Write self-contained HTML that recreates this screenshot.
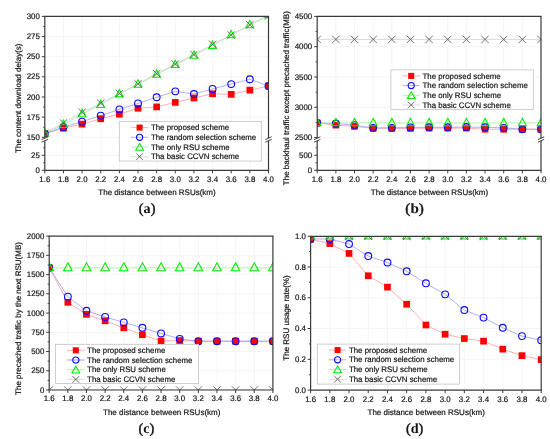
<!DOCTYPE html>
<html><head><meta charset="utf-8"><title>Figure</title>
<style>
html,body{margin:0;padding:0;background:#fff;}
body{width:550px;height:439px;overflow:hidden;}
svg{display:block;} text{text-rendering:geometricPrecision;}
</style></head>
<body>
<svg width="550" height="439" viewBox="0 0 550 439">
<rect width="550" height="439" fill="#ffffff"/>
<clipPath id="ca"><rect x="44.8" y="16.4" width="223.7" height="153.9"/></clipPath>
<line x1="63.442" y1="16.4" x2="63.442" y2="170.3" stroke="#f1f1f1" stroke-width="0.8"/>
<line x1="82.083" y1="16.4" x2="82.083" y2="170.3" stroke="#f1f1f1" stroke-width="0.8"/>
<line x1="100.725" y1="16.4" x2="100.725" y2="170.3" stroke="#f1f1f1" stroke-width="0.8"/>
<line x1="119.367" y1="16.4" x2="119.367" y2="170.3" stroke="#f1f1f1" stroke-width="0.8"/>
<line x1="138.008" y1="16.4" x2="138.008" y2="170.3" stroke="#f1f1f1" stroke-width="0.8"/>
<line x1="156.65" y1="16.4" x2="156.65" y2="170.3" stroke="#f1f1f1" stroke-width="0.8"/>
<line x1="175.292" y1="16.4" x2="175.292" y2="170.3" stroke="#f1f1f1" stroke-width="0.8"/>
<line x1="193.933" y1="16.4" x2="193.933" y2="170.3" stroke="#f1f1f1" stroke-width="0.8"/>
<line x1="212.575" y1="16.4" x2="212.575" y2="170.3" stroke="#f1f1f1" stroke-width="0.8"/>
<line x1="231.217" y1="16.4" x2="231.217" y2="170.3" stroke="#f1f1f1" stroke-width="0.8"/>
<line x1="249.858" y1="16.4" x2="249.858" y2="170.3" stroke="#f1f1f1" stroke-width="0.8"/>
<line x1="44.8" y1="36.55" x2="268.5" y2="36.55" stroke="#f1f1f1" stroke-width="0.8"/>
<line x1="44.8" y1="56.7" x2="268.5" y2="56.7" stroke="#f1f1f1" stroke-width="0.8"/>
<line x1="44.8" y1="76.85" x2="268.5" y2="76.85" stroke="#f1f1f1" stroke-width="0.8"/>
<line x1="44.8" y1="97" x2="268.5" y2="97" stroke="#f1f1f1" stroke-width="0.8"/>
<line x1="44.8" y1="117.15" x2="268.5" y2="117.15" stroke="#f1f1f1" stroke-width="0.8"/>
<line x1="44.8" y1="137.3" x2="268.5" y2="137.3" stroke="#f1f1f1" stroke-width="0.8"/>
<line x1="44.8" y1="155.3" x2="268.5" y2="155.3" stroke="#f1f1f1" stroke-width="0.8"/>
<g clip-path="url(#ca)">
<polyline points="44.8,133.592 63.442,128.192 82.083,124.082 100.725,118.762 119.367,114.168 138.008,108.284 156.65,106.914 175.292,102.4 193.933,97.967 212.575,93.776 231.217,94.34 249.858,90.149 268.5,86.038" fill="none" stroke="#ff9a9a" stroke-width="0.8"/>
<polyline points="44.8,133.592 63.442,127.144 82.083,121.664 100.725,115.619 119.367,109.412 138.008,103.448 156.65,97.242 175.292,91.358 193.933,94.018 212.575,88.94 231.217,84.104 249.858,79.268 268.5,86.038" fill="none" stroke="#9c9cff" stroke-width="0.8"/>
<polyline points="44.8,133.27 63.442,124.726 82.083,113.926 100.725,104.738 119.367,94.098 138.008,84.426 156.65,74.513 175.292,64.76 193.933,55.41 212.575,45.577 231.217,35.019 249.858,25.024 268.5,14.788" fill="none" stroke="#9cf09c" stroke-width="0.8"/>
<polyline points="44.8,133.27 63.442,122.953 82.083,112.314 100.725,103.126 119.367,93.454 138.008,83.782 156.65,73.626 175.292,64.035 193.933,54.524 212.575,44.288 231.217,35.019 249.858,24.782 268.5,15.997" fill="none" stroke="#d0d0d0" stroke-width="0.8"/>
<rect x="41.45" y="130.242" width="6.7" height="6.7" fill="#ff0000"/>
<rect x="60.092" y="124.842" width="6.7" height="6.7" fill="#ff0000"/>
<rect x="78.733" y="120.732" width="6.7" height="6.7" fill="#ff0000"/>
<rect x="97.375" y="115.412" width="6.7" height="6.7" fill="#ff0000"/>
<rect x="116.017" y="110.818" width="6.7" height="6.7" fill="#ff0000"/>
<rect x="134.658" y="104.934" width="6.7" height="6.7" fill="#ff0000"/>
<rect x="153.3" y="103.564" width="6.7" height="6.7" fill="#ff0000"/>
<rect x="171.942" y="99.05" width="6.7" height="6.7" fill="#ff0000"/>
<rect x="190.583" y="94.617" width="6.7" height="6.7" fill="#ff0000"/>
<rect x="209.225" y="90.426" width="6.7" height="6.7" fill="#ff0000"/>
<rect x="227.867" y="90.99" width="6.7" height="6.7" fill="#ff0000"/>
<rect x="246.508" y="86.799" width="6.7" height="6.7" fill="#ff0000"/>
<rect x="265.15" y="82.688" width="6.7" height="6.7" fill="#ff0000"/>
<circle cx="44.8" cy="133.592" r="3.4" fill="none" stroke="#0a0aff" stroke-width="1.1"/>
<circle cx="63.442" cy="127.144" r="3.4" fill="none" stroke="#0a0aff" stroke-width="1.1"/>
<circle cx="82.083" cy="121.664" r="3.4" fill="none" stroke="#0a0aff" stroke-width="1.1"/>
<circle cx="100.725" cy="115.619" r="3.4" fill="none" stroke="#0a0aff" stroke-width="1.1"/>
<circle cx="119.367" cy="109.412" r="3.4" fill="none" stroke="#0a0aff" stroke-width="1.1"/>
<circle cx="138.008" cy="103.448" r="3.4" fill="none" stroke="#0a0aff" stroke-width="1.1"/>
<circle cx="156.65" cy="97.242" r="3.4" fill="none" stroke="#0a0aff" stroke-width="1.1"/>
<circle cx="175.292" cy="91.358" r="3.4" fill="none" stroke="#0a0aff" stroke-width="1.1"/>
<circle cx="193.933" cy="94.018" r="3.4" fill="none" stroke="#0a0aff" stroke-width="1.1"/>
<circle cx="212.575" cy="88.94" r="3.4" fill="none" stroke="#0a0aff" stroke-width="1.1"/>
<circle cx="231.217" cy="84.104" r="3.4" fill="none" stroke="#0a0aff" stroke-width="1.1"/>
<circle cx="249.858" cy="79.268" r="3.4" fill="none" stroke="#0a0aff" stroke-width="1.1"/>
<circle cx="268.5" cy="86.038" r="3.4" fill="none" stroke="#0a0aff" stroke-width="1.1"/>
<polygon points="44.8,128.67 48.7,136.07 40.9,136.07" fill="none" stroke="#00ee00" stroke-width="1.1" stroke-linejoin="miter"/>
<polygon points="63.442,120.126 67.342,127.526 59.542,127.526" fill="none" stroke="#00ee00" stroke-width="1.1" stroke-linejoin="miter"/>
<polygon points="82.083,109.326 85.983,116.726 78.183,116.726" fill="none" stroke="#00ee00" stroke-width="1.1" stroke-linejoin="miter"/>
<polygon points="100.725,100.138 104.625,107.538 96.825,107.538" fill="none" stroke="#00ee00" stroke-width="1.1" stroke-linejoin="miter"/>
<polygon points="119.367,89.498 123.267,96.898 115.467,96.898" fill="none" stroke="#00ee00" stroke-width="1.1" stroke-linejoin="miter"/>
<polygon points="138.008,79.826 141.908,87.226 134.108,87.226" fill="none" stroke="#00ee00" stroke-width="1.1" stroke-linejoin="miter"/>
<polygon points="156.65,69.913 160.55,77.313 152.75,77.313" fill="none" stroke="#00ee00" stroke-width="1.1" stroke-linejoin="miter"/>
<polygon points="175.292,60.16 179.192,67.56 171.392,67.56" fill="none" stroke="#00ee00" stroke-width="1.1" stroke-linejoin="miter"/>
<polygon points="193.933,50.81 197.833,58.21 190.033,58.21" fill="none" stroke="#00ee00" stroke-width="1.1" stroke-linejoin="miter"/>
<polygon points="212.575,40.977 216.475,48.377 208.675,48.377" fill="none" stroke="#00ee00" stroke-width="1.1" stroke-linejoin="miter"/>
<polygon points="231.217,30.419 235.117,37.819 227.317,37.819" fill="none" stroke="#00ee00" stroke-width="1.1" stroke-linejoin="miter"/>
<polygon points="249.858,20.424 253.758,27.824 245.958,27.824" fill="none" stroke="#00ee00" stroke-width="1.1" stroke-linejoin="miter"/>
<polygon points="268.5,10.188 272.4,17.588 264.6,17.588" fill="none" stroke="#00ee00" stroke-width="1.1" stroke-linejoin="miter"/>
<path d="M41.1 129.57L48.5 136.97M41.1 136.97L48.5 129.57" stroke="#555555" stroke-width="0.85" fill="none"/>
<path d="M59.742 119.253L67.142 126.653M59.742 126.653L67.142 119.253" stroke="#555555" stroke-width="0.85" fill="none"/>
<path d="M78.383 108.614L85.783 116.014M78.383 116.014L85.783 108.614" stroke="#555555" stroke-width="0.85" fill="none"/>
<path d="M97.025 99.426L104.425 106.826M97.025 106.826L104.425 99.426" stroke="#555555" stroke-width="0.85" fill="none"/>
<path d="M115.667 89.754L123.067 97.154M115.667 97.154L123.067 89.754" stroke="#555555" stroke-width="0.85" fill="none"/>
<path d="M134.308 80.082L141.708 87.482M134.308 87.482L141.708 80.082" stroke="#555555" stroke-width="0.85" fill="none"/>
<path d="M152.95 69.926L160.35 77.326M152.95 77.326L160.35 69.926" stroke="#555555" stroke-width="0.85" fill="none"/>
<path d="M171.592 60.335L178.992 67.735M171.592 67.735L178.992 60.335" stroke="#555555" stroke-width="0.85" fill="none"/>
<path d="M190.233 50.824L197.633 58.224M190.233 58.224L197.633 50.824" stroke="#555555" stroke-width="0.85" fill="none"/>
<path d="M208.875 40.588L216.275 47.988M208.875 47.988L216.275 40.588" stroke="#555555" stroke-width="0.85" fill="none"/>
<path d="M227.517 31.319L234.917 38.719M227.517 38.719L234.917 31.319" stroke="#555555" stroke-width="0.85" fill="none"/>
<path d="M246.158 21.082L253.558 28.482M246.158 28.482L253.558 21.082" stroke="#555555" stroke-width="0.85" fill="none"/>
<path d="M264.8 12.297L272.2 19.697M264.8 19.697L272.2 12.297" stroke="#555555" stroke-width="0.85" fill="none"/>
</g>
<line x1="44.2" y1="16.4" x2="269.1" y2="16.4" stroke="#3a3a3a" stroke-width="1.2"/>
<line x1="44.2" y1="170.3" x2="269.1" y2="170.3" stroke="#3a3a3a" stroke-width="1.2"/>
<line x1="44.8" y1="16.4" x2="44.8" y2="138.2" stroke="#3a3a3a" stroke-width="1.2"/>
<line x1="44.8" y1="140.8" x2="44.8" y2="170.3" stroke="#3a3a3a" stroke-width="1.2"/>
<line x1="41.6" y1="139.6" x2="48" y2="136.8" stroke="#3a3a3a" stroke-width="0.95"/>
<line x1="41.6" y1="142.2" x2="48" y2="139.4" stroke="#3a3a3a" stroke-width="0.95"/>
<line x1="268.5" y1="16.4" x2="268.5" y2="138.2" stroke="#3a3a3a" stroke-width="1.2"/>
<line x1="268.5" y1="140.8" x2="268.5" y2="170.3" stroke="#3a3a3a" stroke-width="1.2"/>
<line x1="265.3" y1="139.6" x2="271.7" y2="136.8" stroke="#3a3a3a" stroke-width="0.95"/>
<line x1="265.3" y1="142.2" x2="271.7" y2="139.4" stroke="#3a3a3a" stroke-width="0.95"/>
<line x1="44.8" y1="170.3" x2="44.8" y2="173.3" stroke="#3a3a3a" stroke-width="1"/>
<text transform="translate(44.8 181.6) scale(0.983 1)" font-size="8" text-anchor="middle" fill="#141414" font-family="'Liberation Sans', Arial, sans-serif" stroke="#141414" stroke-width="0.2">1.6</text>
<line x1="63.442" y1="170.3" x2="63.442" y2="173.3" stroke="#3a3a3a" stroke-width="1"/>
<text transform="translate(63.442 181.6) scale(0.983 1)" font-size="8" text-anchor="middle" fill="#141414" font-family="'Liberation Sans', Arial, sans-serif" stroke="#141414" stroke-width="0.2">1.8</text>
<line x1="82.083" y1="170.3" x2="82.083" y2="173.3" stroke="#3a3a3a" stroke-width="1"/>
<text transform="translate(82.083 181.6) scale(0.983 1)" font-size="8" text-anchor="middle" fill="#141414" font-family="'Liberation Sans', Arial, sans-serif" stroke="#141414" stroke-width="0.2">2.0</text>
<line x1="100.725" y1="170.3" x2="100.725" y2="173.3" stroke="#3a3a3a" stroke-width="1"/>
<text transform="translate(100.725 181.6) scale(0.983 1)" font-size="8" text-anchor="middle" fill="#141414" font-family="'Liberation Sans', Arial, sans-serif" stroke="#141414" stroke-width="0.2">2.2</text>
<line x1="119.367" y1="170.3" x2="119.367" y2="173.3" stroke="#3a3a3a" stroke-width="1"/>
<text transform="translate(119.367 181.6) scale(0.983 1)" font-size="8" text-anchor="middle" fill="#141414" font-family="'Liberation Sans', Arial, sans-serif" stroke="#141414" stroke-width="0.2">2.4</text>
<line x1="138.008" y1="170.3" x2="138.008" y2="173.3" stroke="#3a3a3a" stroke-width="1"/>
<text transform="translate(138.008 181.6) scale(0.983 1)" font-size="8" text-anchor="middle" fill="#141414" font-family="'Liberation Sans', Arial, sans-serif" stroke="#141414" stroke-width="0.2">2.6</text>
<line x1="156.65" y1="170.3" x2="156.65" y2="173.3" stroke="#3a3a3a" stroke-width="1"/>
<text transform="translate(156.65 181.6) scale(0.983 1)" font-size="8" text-anchor="middle" fill="#141414" font-family="'Liberation Sans', Arial, sans-serif" stroke="#141414" stroke-width="0.2">2.8</text>
<line x1="175.292" y1="170.3" x2="175.292" y2="173.3" stroke="#3a3a3a" stroke-width="1"/>
<text transform="translate(175.292 181.6) scale(0.983 1)" font-size="8" text-anchor="middle" fill="#141414" font-family="'Liberation Sans', Arial, sans-serif" stroke="#141414" stroke-width="0.2">3.0</text>
<line x1="193.933" y1="170.3" x2="193.933" y2="173.3" stroke="#3a3a3a" stroke-width="1"/>
<text transform="translate(193.933 181.6) scale(0.983 1)" font-size="8" text-anchor="middle" fill="#141414" font-family="'Liberation Sans', Arial, sans-serif" stroke="#141414" stroke-width="0.2">3.2</text>
<line x1="212.575" y1="170.3" x2="212.575" y2="173.3" stroke="#3a3a3a" stroke-width="1"/>
<text transform="translate(212.575 181.6) scale(0.983 1)" font-size="8" text-anchor="middle" fill="#141414" font-family="'Liberation Sans', Arial, sans-serif" stroke="#141414" stroke-width="0.2">3.4</text>
<line x1="231.217" y1="170.3" x2="231.217" y2="173.3" stroke="#3a3a3a" stroke-width="1"/>
<text transform="translate(231.217 181.6) scale(0.983 1)" font-size="8" text-anchor="middle" fill="#141414" font-family="'Liberation Sans', Arial, sans-serif" stroke="#141414" stroke-width="0.2">3.6</text>
<line x1="249.858" y1="170.3" x2="249.858" y2="173.3" stroke="#3a3a3a" stroke-width="1"/>
<text transform="translate(249.858 181.6) scale(0.983 1)" font-size="8" text-anchor="middle" fill="#141414" font-family="'Liberation Sans', Arial, sans-serif" stroke="#141414" stroke-width="0.2">3.8</text>
<line x1="268.5" y1="170.3" x2="268.5" y2="173.3" stroke="#3a3a3a" stroke-width="1"/>
<text transform="translate(268.5 181.6) scale(0.983 1)" font-size="8" text-anchor="middle" fill="#141414" font-family="'Liberation Sans', Arial, sans-serif" stroke="#141414" stroke-width="0.2">4.0</text>
<line x1="41.8" y1="16.4" x2="44.8" y2="16.4" stroke="#3a3a3a" stroke-width="1"/>
<text transform="translate(39.8 18.95) scale(0.983 1)" font-size="8" text-anchor="end" fill="#141414" font-family="'Liberation Sans', Arial, sans-serif" stroke="#141414" stroke-width="0.2">300</text>
<line x1="41.8" y1="36.55" x2="44.8" y2="36.55" stroke="#3a3a3a" stroke-width="1"/>
<text transform="translate(39.8 39.1) scale(0.983 1)" font-size="8" text-anchor="end" fill="#141414" font-family="'Liberation Sans', Arial, sans-serif" stroke="#141414" stroke-width="0.2">275</text>
<line x1="41.8" y1="56.7" x2="44.8" y2="56.7" stroke="#3a3a3a" stroke-width="1"/>
<text transform="translate(39.8 59.25) scale(0.983 1)" font-size="8" text-anchor="end" fill="#141414" font-family="'Liberation Sans', Arial, sans-serif" stroke="#141414" stroke-width="0.2">250</text>
<line x1="41.8" y1="76.85" x2="44.8" y2="76.85" stroke="#3a3a3a" stroke-width="1"/>
<text transform="translate(39.8 79.4) scale(0.983 1)" font-size="8" text-anchor="end" fill="#141414" font-family="'Liberation Sans', Arial, sans-serif" stroke="#141414" stroke-width="0.2">225</text>
<line x1="41.8" y1="97" x2="44.8" y2="97" stroke="#3a3a3a" stroke-width="1"/>
<text transform="translate(39.8 99.55) scale(0.983 1)" font-size="8" text-anchor="end" fill="#141414" font-family="'Liberation Sans', Arial, sans-serif" stroke="#141414" stroke-width="0.2">200</text>
<line x1="41.8" y1="117.15" x2="44.8" y2="117.15" stroke="#3a3a3a" stroke-width="1"/>
<text transform="translate(39.8 119.7) scale(0.983 1)" font-size="8" text-anchor="end" fill="#141414" font-family="'Liberation Sans', Arial, sans-serif" stroke="#141414" stroke-width="0.2">175</text>
<line x1="41.8" y1="137.3" x2="44.8" y2="137.3" stroke="#3a3a3a" stroke-width="1"/>
<text transform="translate(39.8 139.85) scale(0.983 1)" font-size="8" text-anchor="end" fill="#141414" font-family="'Liberation Sans', Arial, sans-serif" stroke="#141414" stroke-width="0.2">150</text>
<line x1="41.8" y1="155.3" x2="44.8" y2="155.3" stroke="#3a3a3a" stroke-width="1"/>
<text transform="translate(39.8 157.85) scale(0.983 1)" font-size="8" text-anchor="end" fill="#141414" font-family="'Liberation Sans', Arial, sans-serif" stroke="#141414" stroke-width="0.2">25</text>
<line x1="41.8" y1="170.3" x2="44.8" y2="170.3" stroke="#3a3a3a" stroke-width="1"/>
<text transform="translate(39.8 172.85) scale(0.983 1)" font-size="8" text-anchor="end" fill="#141414" font-family="'Liberation Sans', Arial, sans-serif" stroke="#141414" stroke-width="0.2">0</text>
<line x1="43.2" y1="26.475" x2="44.8" y2="26.475" stroke="#3a3a3a" stroke-width="0.9"/>
<line x1="43.2" y1="46.625" x2="44.8" y2="46.625" stroke="#3a3a3a" stroke-width="0.9"/>
<line x1="43.2" y1="66.775" x2="44.8" y2="66.775" stroke="#3a3a3a" stroke-width="0.9"/>
<line x1="43.2" y1="86.925" x2="44.8" y2="86.925" stroke="#3a3a3a" stroke-width="0.9"/>
<line x1="43.2" y1="107.075" x2="44.8" y2="107.075" stroke="#3a3a3a" stroke-width="0.9"/>
<line x1="43.2" y1="127.225" x2="44.8" y2="127.225" stroke="#3a3a3a" stroke-width="0.9"/>
<line x1="43.2" y1="147.8" x2="44.8" y2="147.8" stroke="#3a3a3a" stroke-width="0.9"/>
<line x1="43.2" y1="162.8" x2="44.8" y2="162.8" stroke="#3a3a3a" stroke-width="0.9"/>
<text transform="translate(157 194.9)" font-size="8" text-anchor="middle" fill="#141414" font-family="'Liberation Sans', Arial, sans-serif" stroke="#141414" stroke-width="0.2">The distance between RSUs(km)</text>
<text transform="translate(21.1 98.2) rotate(-90)" font-size="8" text-anchor="middle" fill="#141414" font-family="'Liberation Sans', Arial, sans-serif" stroke="#141414" stroke-width="0.2">The content download delay(s)</text>
<rect x="119.3" y="121.6" width="142.3" height="39.5" fill="#ffffff" stroke="#c4c4c4" stroke-width="0.8"/>
<line x1="130.8" y1="127.6" x2="148.3" y2="127.6" stroke="#ff9a9a" stroke-width="0.8"/>
<rect x="136.585" y="124.585" width="6.03" height="6.03" fill="#ff0000"/>
<text transform="translate(150.9 130.2) scale(0.983 1)" font-size="8" text-anchor="start" fill="#141414" font-family="'Liberation Sans', Arial, sans-serif" stroke="#141414" stroke-width="0.2">The proposed scheme</text>
<line x1="130.8" y1="137.3" x2="148.3" y2="137.3" stroke="#9c9cff" stroke-width="0.8"/>
<circle cx="139.6" cy="137.3" r="3.06" fill="none" stroke="#0a0aff" stroke-width="1.1"/>
<text transform="translate(150.9 139.9) scale(0.983 1)" font-size="8" text-anchor="start" fill="#141414" font-family="'Liberation Sans', Arial, sans-serif" stroke="#141414" stroke-width="0.2">The random selection scheme</text>
<line x1="130.8" y1="147" x2="148.3" y2="147" stroke="#9cf09c" stroke-width="0.8"/>
<polygon points="139.6,143.49 143.47,150.24 135.73,150.24" fill="none" stroke="#00ee00" stroke-width="1.1" stroke-linejoin="miter"/>
<text transform="translate(150.9 149.6) scale(0.983 1)" font-size="8" text-anchor="start" fill="#141414" font-family="'Liberation Sans', Arial, sans-serif" stroke="#141414" stroke-width="0.2">The only RSU scheme</text>
<line x1="130.8" y1="156.7" x2="148.3" y2="156.7" stroke="#d0d0d0" stroke-width="0.8"/>
<path d="M136.27 153.37L142.93 160.03M136.27 160.03L142.93 153.37" stroke="#555555" stroke-width="0.85" fill="none"/>
<text transform="translate(150.9 159.3) scale(0.983 1)" font-size="8" text-anchor="start" fill="#141414" font-family="'Liberation Sans', Arial, sans-serif" stroke="#141414" stroke-width="0.2">Tha basic CCVN scheme</text>
<text transform="translate(147.1 213.2)" font-size="14.2" text-anchor="middle" fill="#111" font-family="'Liberation Serif', 'Times New Roman', serif" font-weight="bold"><tspan font-weight="normal" stroke="#111" stroke-width="0.45">(</tspan>a<tspan font-weight="normal" stroke="#111" stroke-width="0.45">)</tspan></text>
<clipPath id="cb"><rect x="317.2" y="16.4" width="223.8" height="153.9"/></clipPath>
<line x1="335.85" y1="16.4" x2="335.85" y2="170.3" stroke="#f1f1f1" stroke-width="0.8"/>
<line x1="354.5" y1="16.4" x2="354.5" y2="170.3" stroke="#f1f1f1" stroke-width="0.8"/>
<line x1="373.15" y1="16.4" x2="373.15" y2="170.3" stroke="#f1f1f1" stroke-width="0.8"/>
<line x1="391.8" y1="16.4" x2="391.8" y2="170.3" stroke="#f1f1f1" stroke-width="0.8"/>
<line x1="410.45" y1="16.4" x2="410.45" y2="170.3" stroke="#f1f1f1" stroke-width="0.8"/>
<line x1="429.1" y1="16.4" x2="429.1" y2="170.3" stroke="#f1f1f1" stroke-width="0.8"/>
<line x1="447.75" y1="16.4" x2="447.75" y2="170.3" stroke="#f1f1f1" stroke-width="0.8"/>
<line x1="466.4" y1="16.4" x2="466.4" y2="170.3" stroke="#f1f1f1" stroke-width="0.8"/>
<line x1="485.05" y1="16.4" x2="485.05" y2="170.3" stroke="#f1f1f1" stroke-width="0.8"/>
<line x1="503.7" y1="16.4" x2="503.7" y2="170.3" stroke="#f1f1f1" stroke-width="0.8"/>
<line x1="522.35" y1="16.4" x2="522.35" y2="170.3" stroke="#f1f1f1" stroke-width="0.8"/>
<line x1="317.2" y1="46.7" x2="541" y2="46.7" stroke="#f1f1f1" stroke-width="0.8"/>
<line x1="317.2" y1="77" x2="541" y2="77" stroke="#f1f1f1" stroke-width="0.8"/>
<line x1="317.2" y1="107.3" x2="541" y2="107.3" stroke="#f1f1f1" stroke-width="0.8"/>
<line x1="317.2" y1="137.6" x2="541" y2="137.6" stroke="#f1f1f1" stroke-width="0.8"/>
<line x1="317.2" y1="155.3" x2="541" y2="155.3" stroke="#f1f1f1" stroke-width="0.8"/>
<g clip-path="url(#cb)">
<polyline points="317.2,122.935 335.85,125.116 354.5,126.389 373.15,128.389 391.8,128.389 410.45,128.389 429.1,128.086 447.75,128.086 466.4,128.086 485.05,129.237 503.7,129.237 522.35,129.237 541,129.237" fill="none" stroke="#ff9a9a" stroke-width="0.8"/>
<polyline points="317.2,122.935 335.85,123.541 354.5,125.116 373.15,127.843 391.8,127.843 410.45,127.419 429.1,127.298 447.75,127.298 466.4,126.995 485.05,127.298 503.7,127.904 522.35,129.237 541,129.237" fill="none" stroke="#9c9cff" stroke-width="0.8"/>
<polyline points="317.2,122.935 335.85,122.935 354.5,122.935 373.15,122.935 391.8,122.935 410.45,122.935 429.1,122.935 447.75,122.935 466.4,122.935 485.05,122.935 503.7,122.935 522.35,122.935 541,122.935" fill="none" stroke="#9cf09c" stroke-width="0.8"/>
<polyline points="317.2,39.428 335.85,39.428 354.5,39.428 373.15,39.428 391.8,39.428 410.45,39.428 429.1,39.428 447.75,39.428 466.4,39.428 485.05,39.428 503.7,39.428 522.35,39.428 541,39.428" fill="none" stroke="#d0d0d0" stroke-width="0.8"/>
<rect x="313.85" y="119.585" width="6.7" height="6.7" fill="#ff0000"/>
<rect x="332.5" y="121.766" width="6.7" height="6.7" fill="#ff0000"/>
<rect x="351.15" y="123.039" width="6.7" height="6.7" fill="#ff0000"/>
<rect x="369.8" y="125.039" width="6.7" height="6.7" fill="#ff0000"/>
<rect x="388.45" y="125.039" width="6.7" height="6.7" fill="#ff0000"/>
<rect x="407.1" y="125.039" width="6.7" height="6.7" fill="#ff0000"/>
<rect x="425.75" y="124.736" width="6.7" height="6.7" fill="#ff0000"/>
<rect x="444.4" y="124.736" width="6.7" height="6.7" fill="#ff0000"/>
<rect x="463.05" y="124.736" width="6.7" height="6.7" fill="#ff0000"/>
<rect x="481.7" y="125.887" width="6.7" height="6.7" fill="#ff0000"/>
<rect x="500.35" y="125.887" width="6.7" height="6.7" fill="#ff0000"/>
<rect x="519" y="125.887" width="6.7" height="6.7" fill="#ff0000"/>
<rect x="537.65" y="125.887" width="6.7" height="6.7" fill="#ff0000"/>
<circle cx="317.2" cy="122.935" r="3.4" fill="none" stroke="#0a0aff" stroke-width="1.1"/>
<circle cx="335.85" cy="123.541" r="3.4" fill="none" stroke="#0a0aff" stroke-width="1.1"/>
<circle cx="354.5" cy="125.116" r="3.4" fill="none" stroke="#0a0aff" stroke-width="1.1"/>
<circle cx="373.15" cy="127.843" r="3.4" fill="none" stroke="#0a0aff" stroke-width="1.1"/>
<circle cx="391.8" cy="127.843" r="3.4" fill="none" stroke="#0a0aff" stroke-width="1.1"/>
<circle cx="410.45" cy="127.419" r="3.4" fill="none" stroke="#0a0aff" stroke-width="1.1"/>
<circle cx="429.1" cy="127.298" r="3.4" fill="none" stroke="#0a0aff" stroke-width="1.1"/>
<circle cx="447.75" cy="127.298" r="3.4" fill="none" stroke="#0a0aff" stroke-width="1.1"/>
<circle cx="466.4" cy="126.995" r="3.4" fill="none" stroke="#0a0aff" stroke-width="1.1"/>
<circle cx="485.05" cy="127.298" r="3.4" fill="none" stroke="#0a0aff" stroke-width="1.1"/>
<circle cx="503.7" cy="127.904" r="3.4" fill="none" stroke="#0a0aff" stroke-width="1.1"/>
<circle cx="522.35" cy="129.237" r="3.4" fill="none" stroke="#0a0aff" stroke-width="1.1"/>
<circle cx="541" cy="129.237" r="3.4" fill="none" stroke="#0a0aff" stroke-width="1.1"/>
<polygon points="317.2,118.335 321.1,125.735 313.3,125.735" fill="none" stroke="#00ee00" stroke-width="1.1" stroke-linejoin="miter"/>
<polygon points="335.85,118.335 339.75,125.735 331.95,125.735" fill="none" stroke="#00ee00" stroke-width="1.1" stroke-linejoin="miter"/>
<polygon points="354.5,118.335 358.4,125.735 350.6,125.735" fill="none" stroke="#00ee00" stroke-width="1.1" stroke-linejoin="miter"/>
<polygon points="373.15,118.335 377.05,125.735 369.25,125.735" fill="none" stroke="#00ee00" stroke-width="1.1" stroke-linejoin="miter"/>
<polygon points="391.8,118.335 395.7,125.735 387.9,125.735" fill="none" stroke="#00ee00" stroke-width="1.1" stroke-linejoin="miter"/>
<polygon points="410.45,118.335 414.35,125.735 406.55,125.735" fill="none" stroke="#00ee00" stroke-width="1.1" stroke-linejoin="miter"/>
<polygon points="429.1,118.335 433,125.735 425.2,125.735" fill="none" stroke="#00ee00" stroke-width="1.1" stroke-linejoin="miter"/>
<polygon points="447.75,118.335 451.65,125.735 443.85,125.735" fill="none" stroke="#00ee00" stroke-width="1.1" stroke-linejoin="miter"/>
<polygon points="466.4,118.335 470.3,125.735 462.5,125.735" fill="none" stroke="#00ee00" stroke-width="1.1" stroke-linejoin="miter"/>
<polygon points="485.05,118.335 488.95,125.735 481.15,125.735" fill="none" stroke="#00ee00" stroke-width="1.1" stroke-linejoin="miter"/>
<polygon points="503.7,118.335 507.6,125.735 499.8,125.735" fill="none" stroke="#00ee00" stroke-width="1.1" stroke-linejoin="miter"/>
<polygon points="522.35,118.335 526.25,125.735 518.45,125.735" fill="none" stroke="#00ee00" stroke-width="1.1" stroke-linejoin="miter"/>
<polygon points="541,118.335 544.9,125.735 537.1,125.735" fill="none" stroke="#00ee00" stroke-width="1.1" stroke-linejoin="miter"/>
<path d="M313.5 35.728L320.9 43.128M313.5 43.128L320.9 35.728" stroke="#555555" stroke-width="0.85" fill="none"/>
<path d="M332.15 35.728L339.55 43.128M332.15 43.128L339.55 35.728" stroke="#555555" stroke-width="0.85" fill="none"/>
<path d="M350.8 35.728L358.2 43.128M350.8 43.128L358.2 35.728" stroke="#555555" stroke-width="0.85" fill="none"/>
<path d="M369.45 35.728L376.85 43.128M369.45 43.128L376.85 35.728" stroke="#555555" stroke-width="0.85" fill="none"/>
<path d="M388.1 35.728L395.5 43.128M388.1 43.128L395.5 35.728" stroke="#555555" stroke-width="0.85" fill="none"/>
<path d="M406.75 35.728L414.15 43.128M406.75 43.128L414.15 35.728" stroke="#555555" stroke-width="0.85" fill="none"/>
<path d="M425.4 35.728L432.8 43.128M425.4 43.128L432.8 35.728" stroke="#555555" stroke-width="0.85" fill="none"/>
<path d="M444.05 35.728L451.45 43.128M444.05 43.128L451.45 35.728" stroke="#555555" stroke-width="0.85" fill="none"/>
<path d="M462.7 35.728L470.1 43.128M462.7 43.128L470.1 35.728" stroke="#555555" stroke-width="0.85" fill="none"/>
<path d="M481.35 35.728L488.75 43.128M481.35 43.128L488.75 35.728" stroke="#555555" stroke-width="0.85" fill="none"/>
<path d="M500 35.728L507.4 43.128M500 43.128L507.4 35.728" stroke="#555555" stroke-width="0.85" fill="none"/>
<path d="M518.65 35.728L526.05 43.128M518.65 43.128L526.05 35.728" stroke="#555555" stroke-width="0.85" fill="none"/>
<path d="M537.3 35.728L544.7 43.128M537.3 43.128L544.7 35.728" stroke="#555555" stroke-width="0.85" fill="none"/>
</g>
<line x1="316.6" y1="16.4" x2="541.6" y2="16.4" stroke="#3a3a3a" stroke-width="1.2"/>
<line x1="316.6" y1="170.3" x2="541.6" y2="170.3" stroke="#3a3a3a" stroke-width="1.2"/>
<line x1="317.2" y1="16.4" x2="317.2" y2="138.2" stroke="#3a3a3a" stroke-width="1.2"/>
<line x1="317.2" y1="140.8" x2="317.2" y2="170.3" stroke="#3a3a3a" stroke-width="1.2"/>
<line x1="314" y1="139.6" x2="320.4" y2="136.8" stroke="#3a3a3a" stroke-width="0.95"/>
<line x1="314" y1="142.2" x2="320.4" y2="139.4" stroke="#3a3a3a" stroke-width="0.95"/>
<line x1="541" y1="16.4" x2="541" y2="138.2" stroke="#3a3a3a" stroke-width="1.2"/>
<line x1="541" y1="140.8" x2="541" y2="170.3" stroke="#3a3a3a" stroke-width="1.2"/>
<line x1="537.8" y1="139.6" x2="544.2" y2="136.8" stroke="#3a3a3a" stroke-width="0.95"/>
<line x1="537.8" y1="142.2" x2="544.2" y2="139.4" stroke="#3a3a3a" stroke-width="0.95"/>
<line x1="317.2" y1="170.3" x2="317.2" y2="173.3" stroke="#3a3a3a" stroke-width="1"/>
<text transform="translate(317.2 181.6) scale(0.983 1)" font-size="8" text-anchor="middle" fill="#141414" font-family="'Liberation Sans', Arial, sans-serif" stroke="#141414" stroke-width="0.2">1.6</text>
<line x1="335.85" y1="170.3" x2="335.85" y2="173.3" stroke="#3a3a3a" stroke-width="1"/>
<text transform="translate(335.85 181.6) scale(0.983 1)" font-size="8" text-anchor="middle" fill="#141414" font-family="'Liberation Sans', Arial, sans-serif" stroke="#141414" stroke-width="0.2">1.8</text>
<line x1="354.5" y1="170.3" x2="354.5" y2="173.3" stroke="#3a3a3a" stroke-width="1"/>
<text transform="translate(354.5 181.6) scale(0.983 1)" font-size="8" text-anchor="middle" fill="#141414" font-family="'Liberation Sans', Arial, sans-serif" stroke="#141414" stroke-width="0.2">2.0</text>
<line x1="373.15" y1="170.3" x2="373.15" y2="173.3" stroke="#3a3a3a" stroke-width="1"/>
<text transform="translate(373.15 181.6) scale(0.983 1)" font-size="8" text-anchor="middle" fill="#141414" font-family="'Liberation Sans', Arial, sans-serif" stroke="#141414" stroke-width="0.2">2.2</text>
<line x1="391.8" y1="170.3" x2="391.8" y2="173.3" stroke="#3a3a3a" stroke-width="1"/>
<text transform="translate(391.8 181.6) scale(0.983 1)" font-size="8" text-anchor="middle" fill="#141414" font-family="'Liberation Sans', Arial, sans-serif" stroke="#141414" stroke-width="0.2">2.4</text>
<line x1="410.45" y1="170.3" x2="410.45" y2="173.3" stroke="#3a3a3a" stroke-width="1"/>
<text transform="translate(410.45 181.6) scale(0.983 1)" font-size="8" text-anchor="middle" fill="#141414" font-family="'Liberation Sans', Arial, sans-serif" stroke="#141414" stroke-width="0.2">2.6</text>
<line x1="429.1" y1="170.3" x2="429.1" y2="173.3" stroke="#3a3a3a" stroke-width="1"/>
<text transform="translate(429.1 181.6) scale(0.983 1)" font-size="8" text-anchor="middle" fill="#141414" font-family="'Liberation Sans', Arial, sans-serif" stroke="#141414" stroke-width="0.2">2.8</text>
<line x1="447.75" y1="170.3" x2="447.75" y2="173.3" stroke="#3a3a3a" stroke-width="1"/>
<text transform="translate(447.75 181.6) scale(0.983 1)" font-size="8" text-anchor="middle" fill="#141414" font-family="'Liberation Sans', Arial, sans-serif" stroke="#141414" stroke-width="0.2">3.0</text>
<line x1="466.4" y1="170.3" x2="466.4" y2="173.3" stroke="#3a3a3a" stroke-width="1"/>
<text transform="translate(466.4 181.6) scale(0.983 1)" font-size="8" text-anchor="middle" fill="#141414" font-family="'Liberation Sans', Arial, sans-serif" stroke="#141414" stroke-width="0.2">3.2</text>
<line x1="485.05" y1="170.3" x2="485.05" y2="173.3" stroke="#3a3a3a" stroke-width="1"/>
<text transform="translate(485.05 181.6) scale(0.983 1)" font-size="8" text-anchor="middle" fill="#141414" font-family="'Liberation Sans', Arial, sans-serif" stroke="#141414" stroke-width="0.2">3.4</text>
<line x1="503.7" y1="170.3" x2="503.7" y2="173.3" stroke="#3a3a3a" stroke-width="1"/>
<text transform="translate(503.7 181.6) scale(0.983 1)" font-size="8" text-anchor="middle" fill="#141414" font-family="'Liberation Sans', Arial, sans-serif" stroke="#141414" stroke-width="0.2">3.6</text>
<line x1="522.35" y1="170.3" x2="522.35" y2="173.3" stroke="#3a3a3a" stroke-width="1"/>
<text transform="translate(522.35 181.6) scale(0.983 1)" font-size="8" text-anchor="middle" fill="#141414" font-family="'Liberation Sans', Arial, sans-serif" stroke="#141414" stroke-width="0.2">3.8</text>
<line x1="541" y1="170.3" x2="541" y2="173.3" stroke="#3a3a3a" stroke-width="1"/>
<text transform="translate(541 181.6) scale(0.983 1)" font-size="8" text-anchor="middle" fill="#141414" font-family="'Liberation Sans', Arial, sans-serif" stroke="#141414" stroke-width="0.2">4.0</text>
<line x1="314.2" y1="16.4" x2="317.2" y2="16.4" stroke="#3a3a3a" stroke-width="1"/>
<text transform="translate(312.2 18.95) scale(0.983 1)" font-size="8" text-anchor="end" fill="#141414" font-family="'Liberation Sans', Arial, sans-serif" stroke="#141414" stroke-width="0.2">4500</text>
<line x1="314.2" y1="46.7" x2="317.2" y2="46.7" stroke="#3a3a3a" stroke-width="1"/>
<text transform="translate(312.2 49.25) scale(0.983 1)" font-size="8" text-anchor="end" fill="#141414" font-family="'Liberation Sans', Arial, sans-serif" stroke="#141414" stroke-width="0.2">4000</text>
<line x1="314.2" y1="77" x2="317.2" y2="77" stroke="#3a3a3a" stroke-width="1"/>
<text transform="translate(312.2 79.55) scale(0.983 1)" font-size="8" text-anchor="end" fill="#141414" font-family="'Liberation Sans', Arial, sans-serif" stroke="#141414" stroke-width="0.2">3500</text>
<line x1="314.2" y1="107.3" x2="317.2" y2="107.3" stroke="#3a3a3a" stroke-width="1"/>
<text transform="translate(312.2 109.85) scale(0.983 1)" font-size="8" text-anchor="end" fill="#141414" font-family="'Liberation Sans', Arial, sans-serif" stroke="#141414" stroke-width="0.2">3000</text>
<line x1="314.2" y1="137.6" x2="317.2" y2="137.6" stroke="#3a3a3a" stroke-width="1"/>
<text transform="translate(312.2 140.15) scale(0.983 1)" font-size="8" text-anchor="end" fill="#141414" font-family="'Liberation Sans', Arial, sans-serif" stroke="#141414" stroke-width="0.2">2500</text>
<line x1="314.2" y1="155.3" x2="317.2" y2="155.3" stroke="#3a3a3a" stroke-width="1"/>
<text transform="translate(312.2 157.85) scale(0.983 1)" font-size="8" text-anchor="end" fill="#141414" font-family="'Liberation Sans', Arial, sans-serif" stroke="#141414" stroke-width="0.2">500</text>
<line x1="314.2" y1="170.3" x2="317.2" y2="170.3" stroke="#3a3a3a" stroke-width="1"/>
<text transform="translate(312.2 172.85) scale(0.983 1)" font-size="8" text-anchor="end" fill="#141414" font-family="'Liberation Sans', Arial, sans-serif" stroke="#141414" stroke-width="0.2">0</text>
<line x1="315.6" y1="31.55" x2="317.2" y2="31.55" stroke="#3a3a3a" stroke-width="0.9"/>
<line x1="315.6" y1="61.85" x2="317.2" y2="61.85" stroke="#3a3a3a" stroke-width="0.9"/>
<line x1="315.6" y1="92.15" x2="317.2" y2="92.15" stroke="#3a3a3a" stroke-width="0.9"/>
<line x1="315.6" y1="122.45" x2="317.2" y2="122.45" stroke="#3a3a3a" stroke-width="0.9"/>
<line x1="315.6" y1="147.8" x2="317.2" y2="147.8" stroke="#3a3a3a" stroke-width="0.9"/>
<line x1="315.6" y1="162.8" x2="317.2" y2="162.8" stroke="#3a3a3a" stroke-width="0.9"/>
<text transform="translate(429.5 195.3)" font-size="8" text-anchor="middle" fill="#141414" font-family="'Liberation Sans', Arial, sans-serif" stroke="#141414" stroke-width="0.2">The distance between RSUs(km)</text>
<text transform="translate(289.3 98.2) rotate(-90)" font-size="8" text-anchor="middle" fill="#141414" font-family="'Liberation Sans', Arial, sans-serif" stroke="#141414" stroke-width="0.2">The backhaul traffic except precached traffic(MB)</text>
<rect x="390.9" y="69.9" width="142.6" height="39.5" fill="#ffffff" stroke="#c4c4c4" stroke-width="0.8"/>
<line x1="402.4" y1="75.9" x2="419.9" y2="75.9" stroke="#ff9a9a" stroke-width="0.8"/>
<rect x="408.185" y="72.885" width="6.03" height="6.03" fill="#ff0000"/>
<text transform="translate(422.5 78.5) scale(0.983 1)" font-size="8" text-anchor="start" fill="#141414" font-family="'Liberation Sans', Arial, sans-serif" stroke="#141414" stroke-width="0.2">The proposed scheme</text>
<line x1="402.4" y1="85.6" x2="419.9" y2="85.6" stroke="#9c9cff" stroke-width="0.8"/>
<circle cx="411.2" cy="85.6" r="3.06" fill="none" stroke="#0a0aff" stroke-width="1.1"/>
<text transform="translate(422.5 88.2) scale(0.983 1)" font-size="8" text-anchor="start" fill="#141414" font-family="'Liberation Sans', Arial, sans-serif" stroke="#141414" stroke-width="0.2">The random selection scheme</text>
<line x1="402.4" y1="95.3" x2="419.9" y2="95.3" stroke="#9cf09c" stroke-width="0.8"/>
<polygon points="411.2,91.79 415.07,98.54 407.33,98.54" fill="none" stroke="#00ee00" stroke-width="1.1" stroke-linejoin="miter"/>
<text transform="translate(422.5 97.9) scale(0.983 1)" font-size="8" text-anchor="start" fill="#141414" font-family="'Liberation Sans', Arial, sans-serif" stroke="#141414" stroke-width="0.2">The only RSU scheme</text>
<line x1="402.4" y1="105" x2="419.9" y2="105" stroke="#d0d0d0" stroke-width="0.8"/>
<path d="M407.87 101.67L414.53 108.33M407.87 108.33L414.53 101.67" stroke="#555555" stroke-width="0.85" fill="none"/>
<text transform="translate(422.5 107.6) scale(0.983 1)" font-size="8" text-anchor="start" fill="#141414" font-family="'Liberation Sans', Arial, sans-serif" stroke="#141414" stroke-width="0.2">Tha basic CCVN scheme</text>
<text transform="translate(414.6 213.2) scale(1.07 1)" font-size="14.2" text-anchor="middle" fill="#111" font-family="'Liberation Serif', 'Times New Roman', serif" font-weight="bold"><tspan font-weight="normal" stroke="#111" stroke-width="0.45">(</tspan>b<tspan font-weight="normal" stroke="#111" stroke-width="0.45">)</tspan></text>
<clipPath id="cc"><rect x="49.2" y="236.1" width="223.7" height="153.9"/></clipPath>
<line x1="67.842" y1="236.1" x2="67.842" y2="390" stroke="#f1f1f1" stroke-width="0.8"/>
<line x1="86.483" y1="236.1" x2="86.483" y2="390" stroke="#f1f1f1" stroke-width="0.8"/>
<line x1="105.125" y1="236.1" x2="105.125" y2="390" stroke="#f1f1f1" stroke-width="0.8"/>
<line x1="123.767" y1="236.1" x2="123.767" y2="390" stroke="#f1f1f1" stroke-width="0.8"/>
<line x1="142.408" y1="236.1" x2="142.408" y2="390" stroke="#f1f1f1" stroke-width="0.8"/>
<line x1="161.05" y1="236.1" x2="161.05" y2="390" stroke="#f1f1f1" stroke-width="0.8"/>
<line x1="179.692" y1="236.1" x2="179.692" y2="390" stroke="#f1f1f1" stroke-width="0.8"/>
<line x1="198.333" y1="236.1" x2="198.333" y2="390" stroke="#f1f1f1" stroke-width="0.8"/>
<line x1="216.975" y1="236.1" x2="216.975" y2="390" stroke="#f1f1f1" stroke-width="0.8"/>
<line x1="235.617" y1="236.1" x2="235.617" y2="390" stroke="#f1f1f1" stroke-width="0.8"/>
<line x1="254.258" y1="236.1" x2="254.258" y2="390" stroke="#f1f1f1" stroke-width="0.8"/>
<line x1="49.2" y1="255.338" x2="272.9" y2="255.338" stroke="#f1f1f1" stroke-width="0.8"/>
<line x1="49.2" y1="274.575" x2="272.9" y2="274.575" stroke="#f1f1f1" stroke-width="0.8"/>
<line x1="49.2" y1="293.812" x2="272.9" y2="293.812" stroke="#f1f1f1" stroke-width="0.8"/>
<line x1="49.2" y1="313.05" x2="272.9" y2="313.05" stroke="#f1f1f1" stroke-width="0.8"/>
<line x1="49.2" y1="332.288" x2="272.9" y2="332.288" stroke="#f1f1f1" stroke-width="0.8"/>
<line x1="49.2" y1="351.525" x2="272.9" y2="351.525" stroke="#f1f1f1" stroke-width="0.8"/>
<line x1="49.2" y1="370.762" x2="272.9" y2="370.762" stroke="#f1f1f1" stroke-width="0.8"/>
<g clip-path="url(#cc)">
<polyline points="49.2,267.803 67.842,302.354 86.483,314.358 105.125,320.822 123.767,327.824 142.408,334.673 161.05,341.06 179.692,340.598 198.333,341.214 216.975,341.214 235.617,341.214 254.258,341.214 272.9,341.214" fill="none" stroke="#ff9a9a" stroke-width="0.8"/>
<polyline points="49.2,267.803 67.842,296.66 86.483,310.818 105.125,316.974 123.767,322.438 142.408,327.824 161.05,333.442 179.692,338.828 198.333,341.214 216.975,341.214 235.617,341.214 254.258,341.214 272.9,341.214" fill="none" stroke="#9c9cff" stroke-width="0.8"/>
<polyline points="49.2,267.803 67.842,267.803 86.483,267.803 105.125,267.803 123.767,267.803 142.408,267.803 161.05,267.803 179.692,267.803 198.333,267.803 216.975,267.803 235.617,267.803 254.258,267.803 272.9,267.803" fill="none" stroke="#9cf09c" stroke-width="0.8"/>
<polyline points="49.2,390 67.842,390 86.483,390 105.125,390 123.767,390 142.408,390 161.05,390 179.692,390 198.333,390 216.975,390 235.617,390 254.258,390 272.9,390" fill="none" stroke="#d0d0d0" stroke-width="0.8"/>
<rect x="45.85" y="264.453" width="6.7" height="6.7" fill="#ff0000"/>
<rect x="64.492" y="299.004" width="6.7" height="6.7" fill="#ff0000"/>
<rect x="83.133" y="311.008" width="6.7" height="6.7" fill="#ff0000"/>
<rect x="101.775" y="317.472" width="6.7" height="6.7" fill="#ff0000"/>
<rect x="120.417" y="324.474" width="6.7" height="6.7" fill="#ff0000"/>
<rect x="139.058" y="331.323" width="6.7" height="6.7" fill="#ff0000"/>
<rect x="157.7" y="337.71" width="6.7" height="6.7" fill="#ff0000"/>
<rect x="176.342" y="337.248" width="6.7" height="6.7" fill="#ff0000"/>
<rect x="194.983" y="337.864" width="6.7" height="6.7" fill="#ff0000"/>
<rect x="213.625" y="337.864" width="6.7" height="6.7" fill="#ff0000"/>
<rect x="232.267" y="337.864" width="6.7" height="6.7" fill="#ff0000"/>
<rect x="250.908" y="337.864" width="6.7" height="6.7" fill="#ff0000"/>
<rect x="269.55" y="337.864" width="6.7" height="6.7" fill="#ff0000"/>
<circle cx="49.2" cy="267.803" r="3.4" fill="none" stroke="#0a0aff" stroke-width="1.1"/>
<circle cx="67.842" cy="296.66" r="3.4" fill="none" stroke="#0a0aff" stroke-width="1.1"/>
<circle cx="86.483" cy="310.818" r="3.4" fill="none" stroke="#0a0aff" stroke-width="1.1"/>
<circle cx="105.125" cy="316.974" r="3.4" fill="none" stroke="#0a0aff" stroke-width="1.1"/>
<circle cx="123.767" cy="322.438" r="3.4" fill="none" stroke="#0a0aff" stroke-width="1.1"/>
<circle cx="142.408" cy="327.824" r="3.4" fill="none" stroke="#0a0aff" stroke-width="1.1"/>
<circle cx="161.05" cy="333.442" r="3.4" fill="none" stroke="#0a0aff" stroke-width="1.1"/>
<circle cx="179.692" cy="338.828" r="3.4" fill="none" stroke="#0a0aff" stroke-width="1.1"/>
<circle cx="198.333" cy="341.214" r="3.4" fill="none" stroke="#0a0aff" stroke-width="1.1"/>
<circle cx="216.975" cy="341.214" r="3.4" fill="none" stroke="#0a0aff" stroke-width="1.1"/>
<circle cx="235.617" cy="341.214" r="3.4" fill="none" stroke="#0a0aff" stroke-width="1.1"/>
<circle cx="254.258" cy="341.214" r="3.4" fill="none" stroke="#0a0aff" stroke-width="1.1"/>
<circle cx="272.9" cy="341.214" r="3.4" fill="none" stroke="#0a0aff" stroke-width="1.1"/>
<polygon points="49.2,262.853 53.5,270.803 44.9,270.803" fill="none" stroke="#00ee00" stroke-width="1.1" stroke-linejoin="miter"/>
<polygon points="67.842,262.853 72.142,270.803 63.542,270.803" fill="none" stroke="#00ee00" stroke-width="1.1" stroke-linejoin="miter"/>
<polygon points="86.483,262.853 90.783,270.803 82.183,270.803" fill="none" stroke="#00ee00" stroke-width="1.1" stroke-linejoin="miter"/>
<polygon points="105.125,262.853 109.425,270.803 100.825,270.803" fill="none" stroke="#00ee00" stroke-width="1.1" stroke-linejoin="miter"/>
<polygon points="123.767,262.853 128.067,270.803 119.467,270.803" fill="none" stroke="#00ee00" stroke-width="1.1" stroke-linejoin="miter"/>
<polygon points="142.408,262.853 146.708,270.803 138.108,270.803" fill="none" stroke="#00ee00" stroke-width="1.1" stroke-linejoin="miter"/>
<polygon points="161.05,262.853 165.35,270.803 156.75,270.803" fill="none" stroke="#00ee00" stroke-width="1.1" stroke-linejoin="miter"/>
<polygon points="179.692,262.853 183.992,270.803 175.392,270.803" fill="none" stroke="#00ee00" stroke-width="1.1" stroke-linejoin="miter"/>
<polygon points="198.333,262.853 202.633,270.803 194.033,270.803" fill="none" stroke="#00ee00" stroke-width="1.1" stroke-linejoin="miter"/>
<polygon points="216.975,262.853 221.275,270.803 212.675,270.803" fill="none" stroke="#00ee00" stroke-width="1.1" stroke-linejoin="miter"/>
<polygon points="235.617,262.853 239.917,270.803 231.317,270.803" fill="none" stroke="#00ee00" stroke-width="1.1" stroke-linejoin="miter"/>
<polygon points="254.258,262.853 258.558,270.803 249.958,270.803" fill="none" stroke="#00ee00" stroke-width="1.1" stroke-linejoin="miter"/>
<polygon points="272.9,262.853 277.2,270.803 268.6,270.803" fill="none" stroke="#00ee00" stroke-width="1.1" stroke-linejoin="miter"/>
<path d="M45.5 386.3L52.9 393.7M45.5 393.7L52.9 386.3" stroke="#555555" stroke-width="0.85" fill="none"/>
<path d="M64.142 386.3L71.542 393.7M64.142 393.7L71.542 386.3" stroke="#555555" stroke-width="0.85" fill="none"/>
<path d="M82.783 386.3L90.183 393.7M82.783 393.7L90.183 386.3" stroke="#555555" stroke-width="0.85" fill="none"/>
<path d="M101.425 386.3L108.825 393.7M101.425 393.7L108.825 386.3" stroke="#555555" stroke-width="0.85" fill="none"/>
<path d="M120.067 386.3L127.467 393.7M120.067 393.7L127.467 386.3" stroke="#555555" stroke-width="0.85" fill="none"/>
<path d="M138.708 386.3L146.108 393.7M138.708 393.7L146.108 386.3" stroke="#555555" stroke-width="0.85" fill="none"/>
<path d="M157.35 386.3L164.75 393.7M157.35 393.7L164.75 386.3" stroke="#555555" stroke-width="0.85" fill="none"/>
<path d="M175.992 386.3L183.392 393.7M175.992 393.7L183.392 386.3" stroke="#555555" stroke-width="0.85" fill="none"/>
<path d="M194.633 386.3L202.033 393.7M194.633 393.7L202.033 386.3" stroke="#555555" stroke-width="0.85" fill="none"/>
<path d="M213.275 386.3L220.675 393.7M213.275 393.7L220.675 386.3" stroke="#555555" stroke-width="0.85" fill="none"/>
<path d="M231.917 386.3L239.317 393.7M231.917 393.7L239.317 386.3" stroke="#555555" stroke-width="0.85" fill="none"/>
<path d="M250.558 386.3L257.958 393.7M250.558 393.7L257.958 386.3" stroke="#555555" stroke-width="0.85" fill="none"/>
<path d="M269.2 386.3L276.6 393.7M269.2 393.7L276.6 386.3" stroke="#555555" stroke-width="0.85" fill="none"/>
</g>
<line x1="48.6" y1="236.1" x2="273.5" y2="236.1" stroke="#3a3a3a" stroke-width="1.2"/>
<line x1="48.6" y1="390" x2="273.5" y2="390" stroke="#3a3a3a" stroke-width="1.2"/>
<line x1="49.2" y1="236.1" x2="49.2" y2="390" stroke="#3a3a3a" stroke-width="1.2"/>
<line x1="272.9" y1="236.1" x2="272.9" y2="390" stroke="#3a3a3a" stroke-width="1.2"/>
<line x1="49.2" y1="390" x2="49.2" y2="393" stroke="#3a3a3a" stroke-width="1"/>
<text transform="translate(49.2 401.1) scale(0.983 1)" font-size="8" text-anchor="middle" fill="#141414" font-family="'Liberation Sans', Arial, sans-serif" stroke="#141414" stroke-width="0.2">1.6</text>
<line x1="67.842" y1="390" x2="67.842" y2="393" stroke="#3a3a3a" stroke-width="1"/>
<text transform="translate(67.842 401.1) scale(0.983 1)" font-size="8" text-anchor="middle" fill="#141414" font-family="'Liberation Sans', Arial, sans-serif" stroke="#141414" stroke-width="0.2">1.8</text>
<line x1="86.483" y1="390" x2="86.483" y2="393" stroke="#3a3a3a" stroke-width="1"/>
<text transform="translate(86.483 401.1) scale(0.983 1)" font-size="8" text-anchor="middle" fill="#141414" font-family="'Liberation Sans', Arial, sans-serif" stroke="#141414" stroke-width="0.2">2.0</text>
<line x1="105.125" y1="390" x2="105.125" y2="393" stroke="#3a3a3a" stroke-width="1"/>
<text transform="translate(105.125 401.1) scale(0.983 1)" font-size="8" text-anchor="middle" fill="#141414" font-family="'Liberation Sans', Arial, sans-serif" stroke="#141414" stroke-width="0.2">2.2</text>
<line x1="123.767" y1="390" x2="123.767" y2="393" stroke="#3a3a3a" stroke-width="1"/>
<text transform="translate(123.767 401.1) scale(0.983 1)" font-size="8" text-anchor="middle" fill="#141414" font-family="'Liberation Sans', Arial, sans-serif" stroke="#141414" stroke-width="0.2">2.4</text>
<line x1="142.408" y1="390" x2="142.408" y2="393" stroke="#3a3a3a" stroke-width="1"/>
<text transform="translate(142.408 401.1) scale(0.983 1)" font-size="8" text-anchor="middle" fill="#141414" font-family="'Liberation Sans', Arial, sans-serif" stroke="#141414" stroke-width="0.2">2.6</text>
<line x1="161.05" y1="390" x2="161.05" y2="393" stroke="#3a3a3a" stroke-width="1"/>
<text transform="translate(161.05 401.1) scale(0.983 1)" font-size="8" text-anchor="middle" fill="#141414" font-family="'Liberation Sans', Arial, sans-serif" stroke="#141414" stroke-width="0.2">2.8</text>
<line x1="179.692" y1="390" x2="179.692" y2="393" stroke="#3a3a3a" stroke-width="1"/>
<text transform="translate(179.692 401.1) scale(0.983 1)" font-size="8" text-anchor="middle" fill="#141414" font-family="'Liberation Sans', Arial, sans-serif" stroke="#141414" stroke-width="0.2">3.0</text>
<line x1="198.333" y1="390" x2="198.333" y2="393" stroke="#3a3a3a" stroke-width="1"/>
<text transform="translate(198.333 401.1) scale(0.983 1)" font-size="8" text-anchor="middle" fill="#141414" font-family="'Liberation Sans', Arial, sans-serif" stroke="#141414" stroke-width="0.2">3.2</text>
<line x1="216.975" y1="390" x2="216.975" y2="393" stroke="#3a3a3a" stroke-width="1"/>
<text transform="translate(216.975 401.1) scale(0.983 1)" font-size="8" text-anchor="middle" fill="#141414" font-family="'Liberation Sans', Arial, sans-serif" stroke="#141414" stroke-width="0.2">3.4</text>
<line x1="235.617" y1="390" x2="235.617" y2="393" stroke="#3a3a3a" stroke-width="1"/>
<text transform="translate(235.617 401.1) scale(0.983 1)" font-size="8" text-anchor="middle" fill="#141414" font-family="'Liberation Sans', Arial, sans-serif" stroke="#141414" stroke-width="0.2">3.6</text>
<line x1="254.258" y1="390" x2="254.258" y2="393" stroke="#3a3a3a" stroke-width="1"/>
<text transform="translate(254.258 401.1) scale(0.983 1)" font-size="8" text-anchor="middle" fill="#141414" font-family="'Liberation Sans', Arial, sans-serif" stroke="#141414" stroke-width="0.2">3.8</text>
<line x1="272.9" y1="390" x2="272.9" y2="393" stroke="#3a3a3a" stroke-width="1"/>
<text transform="translate(272.9 401.1) scale(0.983 1)" font-size="8" text-anchor="middle" fill="#141414" font-family="'Liberation Sans', Arial, sans-serif" stroke="#141414" stroke-width="0.2">4.0</text>
<line x1="46.2" y1="236.1" x2="49.2" y2="236.1" stroke="#3a3a3a" stroke-width="1"/>
<text transform="translate(44.3 238.65) scale(0.983 1)" font-size="8" text-anchor="end" fill="#141414" font-family="'Liberation Sans', Arial, sans-serif" stroke="#141414" stroke-width="0.2">2000</text>
<line x1="46.2" y1="255.338" x2="49.2" y2="255.338" stroke="#3a3a3a" stroke-width="1"/>
<text transform="translate(44.3 257.887) scale(0.983 1)" font-size="8" text-anchor="end" fill="#141414" font-family="'Liberation Sans', Arial, sans-serif" stroke="#141414" stroke-width="0.2">1750</text>
<line x1="46.2" y1="274.575" x2="49.2" y2="274.575" stroke="#3a3a3a" stroke-width="1"/>
<text transform="translate(44.3 277.125) scale(0.983 1)" font-size="8" text-anchor="end" fill="#141414" font-family="'Liberation Sans', Arial, sans-serif" stroke="#141414" stroke-width="0.2">1500</text>
<line x1="46.2" y1="293.812" x2="49.2" y2="293.812" stroke="#3a3a3a" stroke-width="1"/>
<text transform="translate(44.3 296.363) scale(0.983 1)" font-size="8" text-anchor="end" fill="#141414" font-family="'Liberation Sans', Arial, sans-serif" stroke="#141414" stroke-width="0.2">1250</text>
<line x1="46.2" y1="313.05" x2="49.2" y2="313.05" stroke="#3a3a3a" stroke-width="1"/>
<text transform="translate(44.3 315.6) scale(0.983 1)" font-size="8" text-anchor="end" fill="#141414" font-family="'Liberation Sans', Arial, sans-serif" stroke="#141414" stroke-width="0.2">1000</text>
<line x1="46.2" y1="332.288" x2="49.2" y2="332.288" stroke="#3a3a3a" stroke-width="1"/>
<text transform="translate(44.3 334.838) scale(0.983 1)" font-size="8" text-anchor="end" fill="#141414" font-family="'Liberation Sans', Arial, sans-serif" stroke="#141414" stroke-width="0.2">750</text>
<line x1="46.2" y1="351.525" x2="49.2" y2="351.525" stroke="#3a3a3a" stroke-width="1"/>
<text transform="translate(44.3 354.075) scale(0.983 1)" font-size="8" text-anchor="end" fill="#141414" font-family="'Liberation Sans', Arial, sans-serif" stroke="#141414" stroke-width="0.2">500</text>
<line x1="46.2" y1="370.762" x2="49.2" y2="370.762" stroke="#3a3a3a" stroke-width="1"/>
<text transform="translate(44.3 373.312) scale(0.983 1)" font-size="8" text-anchor="end" fill="#141414" font-family="'Liberation Sans', Arial, sans-serif" stroke="#141414" stroke-width="0.2">250</text>
<line x1="46.2" y1="390" x2="49.2" y2="390" stroke="#3a3a3a" stroke-width="1"/>
<text transform="translate(44.3 392.55) scale(0.983 1)" font-size="8" text-anchor="end" fill="#141414" font-family="'Liberation Sans', Arial, sans-serif" stroke="#141414" stroke-width="0.2">0</text>
<line x1="47.6" y1="245.719" x2="49.2" y2="245.719" stroke="#3a3a3a" stroke-width="0.9"/>
<line x1="47.6" y1="264.956" x2="49.2" y2="264.956" stroke="#3a3a3a" stroke-width="0.9"/>
<line x1="47.6" y1="284.194" x2="49.2" y2="284.194" stroke="#3a3a3a" stroke-width="0.9"/>
<line x1="47.6" y1="303.431" x2="49.2" y2="303.431" stroke="#3a3a3a" stroke-width="0.9"/>
<line x1="47.6" y1="322.669" x2="49.2" y2="322.669" stroke="#3a3a3a" stroke-width="0.9"/>
<line x1="47.6" y1="341.906" x2="49.2" y2="341.906" stroke="#3a3a3a" stroke-width="0.9"/>
<line x1="47.6" y1="361.144" x2="49.2" y2="361.144" stroke="#3a3a3a" stroke-width="0.9"/>
<line x1="47.6" y1="380.381" x2="49.2" y2="380.381" stroke="#3a3a3a" stroke-width="0.9"/>
<text transform="translate(161.7 414.9)" font-size="8" text-anchor="middle" fill="#141414" font-family="'Liberation Sans', Arial, sans-serif" stroke="#141414" stroke-width="0.2">The distance between RSUs(km)</text>
<text transform="translate(21.2 318.5) rotate(-90)" font-size="8" text-anchor="middle" fill="#141414" font-family="'Liberation Sans', Arial, sans-serif" stroke="#141414" stroke-width="0.2">The precached traffic by the next RSU(MB)</text>
<rect x="55.5" y="344.3" width="143" height="39.3" fill="#ffffff" stroke="#c4c4c4" stroke-width="0.8"/>
<line x1="67" y1="350.3" x2="84.5" y2="350.3" stroke="#ff9a9a" stroke-width="0.8"/>
<rect x="72.785" y="347.285" width="6.03" height="6.03" fill="#ff0000"/>
<text transform="translate(87.1 352.9) scale(0.983 1)" font-size="8" text-anchor="start" fill="#141414" font-family="'Liberation Sans', Arial, sans-serif" stroke="#141414" stroke-width="0.2">The proposed scheme</text>
<line x1="67" y1="360" x2="84.5" y2="360" stroke="#c4c4f6" stroke-width="1.7"/>
<circle cx="75.8" cy="360" r="3.06" fill="none" stroke="#0a0aff" stroke-width="1.1"/>
<text transform="translate(87.1 362.6) scale(0.983 1)" font-size="8" text-anchor="start" fill="#141414" font-family="'Liberation Sans', Arial, sans-serif" stroke="#141414" stroke-width="0.2">The random selection scheme</text>
<line x1="67" y1="369.7" x2="84.5" y2="369.7" stroke="#9cf09c" stroke-width="0.8"/>
<polygon points="75.8,366.19 79.67,372.94 71.93,372.94" fill="none" stroke="#00ee00" stroke-width="1.1" stroke-linejoin="miter"/>
<text transform="translate(87.1 372.3) scale(0.983 1)" font-size="8" text-anchor="start" fill="#141414" font-family="'Liberation Sans', Arial, sans-serif" stroke="#141414" stroke-width="0.2">The only RSU scheme</text>
<line x1="67" y1="379.4" x2="84.5" y2="379.4" stroke="#d0d0d0" stroke-width="0.8"/>
<path d="M72.47 376.07L79.13 382.73M72.47 382.73L79.13 376.07" stroke="#555555" stroke-width="0.85" fill="none"/>
<text transform="translate(87.1 382) scale(0.983 1)" font-size="8" text-anchor="start" fill="#141414" font-family="'Liberation Sans', Arial, sans-serif" stroke="#141414" stroke-width="0.2">Tha basic CCVN scheme</text>
<text transform="translate(146.4 432.6) scale(1.01 1)" font-size="14.2" text-anchor="middle" fill="#111" font-family="'Liberation Serif', 'Times New Roman', serif" font-weight="bold"><tspan font-weight="normal" stroke="#111" stroke-width="0.45">(</tspan>c<tspan font-weight="normal" stroke="#111" stroke-width="0.45">)</tspan></text>
<clipPath id="cd"><rect x="310.6" y="236.3" width="230.6" height="153.9"/></clipPath>
<line x1="329.817" y1="236.3" x2="329.817" y2="390.2" stroke="#f1f1f1" stroke-width="0.8"/>
<line x1="349.033" y1="236.3" x2="349.033" y2="390.2" stroke="#f1f1f1" stroke-width="0.8"/>
<line x1="368.25" y1="236.3" x2="368.25" y2="390.2" stroke="#f1f1f1" stroke-width="0.8"/>
<line x1="387.467" y1="236.3" x2="387.467" y2="390.2" stroke="#f1f1f1" stroke-width="0.8"/>
<line x1="406.683" y1="236.3" x2="406.683" y2="390.2" stroke="#f1f1f1" stroke-width="0.8"/>
<line x1="425.9" y1="236.3" x2="425.9" y2="390.2" stroke="#f1f1f1" stroke-width="0.8"/>
<line x1="445.117" y1="236.3" x2="445.117" y2="390.2" stroke="#f1f1f1" stroke-width="0.8"/>
<line x1="464.333" y1="236.3" x2="464.333" y2="390.2" stroke="#f1f1f1" stroke-width="0.8"/>
<line x1="483.55" y1="236.3" x2="483.55" y2="390.2" stroke="#f1f1f1" stroke-width="0.8"/>
<line x1="502.767" y1="236.3" x2="502.767" y2="390.2" stroke="#f1f1f1" stroke-width="0.8"/>
<line x1="521.983" y1="236.3" x2="521.983" y2="390.2" stroke="#f1f1f1" stroke-width="0.8"/>
<line x1="310.6" y1="266.98" x2="541.2" y2="266.98" stroke="#f1f1f1" stroke-width="0.8"/>
<line x1="310.6" y1="297.76" x2="541.2" y2="297.76" stroke="#f1f1f1" stroke-width="0.8"/>
<line x1="310.6" y1="328.54" x2="541.2" y2="328.54" stroke="#f1f1f1" stroke-width="0.8"/>
<line x1="310.6" y1="359.32" x2="541.2" y2="359.32" stroke="#f1f1f1" stroke-width="0.8"/>
<g clip-path="url(#cd)">
<polyline points="310.6,239.278 329.817,243.587 349.033,253.437 368.25,275.752 387.467,287.141 406.683,304.224 425.9,325 445.117,334.234 464.333,338.543 483.55,341.16 502.767,349.163 521.983,355.626 541.2,359.628" fill="none" stroke="#ff9a9a" stroke-width="0.8"/>
<polyline points="310.6,238.97 329.817,238.97 349.033,244.049 368.25,256.053 387.467,262.517 406.683,271.289 425.9,283.293 445.117,294.374 464.333,310.072 483.55,317.613 502.767,327.771 521.983,336.081 541.2,340.236" fill="none" stroke="#9c9cff" stroke-width="0.8"/>
<polyline points="310.6,236.2 329.817,236.2 349.033,236.2 368.25,236.2 387.467,236.2 406.683,236.2 425.9,236.2 445.117,236.2 464.333,236.2 483.55,236.2 502.767,236.2 521.983,236.2 541.2,236.2" fill="none" stroke="#9cf09c" stroke-width="0.8"/>
<polyline points="310.6,236.2 329.817,236.2 349.033,236.2 368.25,236.2 387.467,236.2 406.683,236.2 425.9,236.2 445.117,236.2 464.333,236.2 483.55,236.2 502.767,236.2 521.983,236.2 541.2,236.2" fill="none" stroke="#d0d0d0" stroke-width="0.8"/>
<rect x="307.25" y="235.928" width="6.7" height="6.7" fill="#ff0000"/>
<rect x="326.467" y="240.237" width="6.7" height="6.7" fill="#ff0000"/>
<rect x="345.683" y="250.087" width="6.7" height="6.7" fill="#ff0000"/>
<rect x="364.9" y="272.402" width="6.7" height="6.7" fill="#ff0000"/>
<rect x="384.117" y="283.791" width="6.7" height="6.7" fill="#ff0000"/>
<rect x="403.333" y="300.874" width="6.7" height="6.7" fill="#ff0000"/>
<rect x="422.55" y="321.65" width="6.7" height="6.7" fill="#ff0000"/>
<rect x="441.767" y="330.884" width="6.7" height="6.7" fill="#ff0000"/>
<rect x="460.983" y="335.193" width="6.7" height="6.7" fill="#ff0000"/>
<rect x="480.2" y="337.81" width="6.7" height="6.7" fill="#ff0000"/>
<rect x="499.417" y="345.813" width="6.7" height="6.7" fill="#ff0000"/>
<rect x="518.633" y="352.276" width="6.7" height="6.7" fill="#ff0000"/>
<rect x="537.85" y="356.278" width="6.7" height="6.7" fill="#ff0000"/>
<circle cx="310.6" cy="238.97" r="3.4" fill="none" stroke="#0a0aff" stroke-width="1.1"/>
<circle cx="329.817" cy="238.97" r="3.4" fill="none" stroke="#0a0aff" stroke-width="1.1"/>
<circle cx="349.033" cy="244.049" r="3.4" fill="none" stroke="#0a0aff" stroke-width="1.1"/>
<circle cx="368.25" cy="256.053" r="3.4" fill="none" stroke="#0a0aff" stroke-width="1.1"/>
<circle cx="387.467" cy="262.517" r="3.4" fill="none" stroke="#0a0aff" stroke-width="1.1"/>
<circle cx="406.683" cy="271.289" r="3.4" fill="none" stroke="#0a0aff" stroke-width="1.1"/>
<circle cx="425.9" cy="283.293" r="3.4" fill="none" stroke="#0a0aff" stroke-width="1.1"/>
<circle cx="445.117" cy="294.374" r="3.4" fill="none" stroke="#0a0aff" stroke-width="1.1"/>
<circle cx="464.333" cy="310.072" r="3.4" fill="none" stroke="#0a0aff" stroke-width="1.1"/>
<circle cx="483.55" cy="317.613" r="3.4" fill="none" stroke="#0a0aff" stroke-width="1.1"/>
<circle cx="502.767" cy="327.771" r="3.4" fill="none" stroke="#0a0aff" stroke-width="1.1"/>
<circle cx="521.983" cy="336.081" r="3.4" fill="none" stroke="#0a0aff" stroke-width="1.1"/>
<circle cx="541.2" cy="340.236" r="3.4" fill="none" stroke="#0a0aff" stroke-width="1.1"/>
<polygon points="310.6,231.6 314.5,239 306.7,239" fill="none" stroke="#00ee00" stroke-width="1.1" stroke-linejoin="miter"/>
<polygon points="329.817,231.6 333.717,239 325.917,239" fill="none" stroke="#00ee00" stroke-width="1.1" stroke-linejoin="miter"/>
<polygon points="349.033,231.6 352.933,239 345.133,239" fill="none" stroke="#00ee00" stroke-width="1.1" stroke-linejoin="miter"/>
<polygon points="368.25,231.6 372.15,239 364.35,239" fill="none" stroke="#00ee00" stroke-width="1.1" stroke-linejoin="miter"/>
<polygon points="387.467,231.6 391.367,239 383.567,239" fill="none" stroke="#00ee00" stroke-width="1.1" stroke-linejoin="miter"/>
<polygon points="406.683,231.6 410.583,239 402.783,239" fill="none" stroke="#00ee00" stroke-width="1.1" stroke-linejoin="miter"/>
<polygon points="425.9,231.6 429.8,239 422,239" fill="none" stroke="#00ee00" stroke-width="1.1" stroke-linejoin="miter"/>
<polygon points="445.117,231.6 449.017,239 441.217,239" fill="none" stroke="#00ee00" stroke-width="1.1" stroke-linejoin="miter"/>
<polygon points="464.333,231.6 468.233,239 460.433,239" fill="none" stroke="#00ee00" stroke-width="1.1" stroke-linejoin="miter"/>
<polygon points="483.55,231.6 487.45,239 479.65,239" fill="none" stroke="#00ee00" stroke-width="1.1" stroke-linejoin="miter"/>
<polygon points="502.767,231.6 506.667,239 498.867,239" fill="none" stroke="#00ee00" stroke-width="1.1" stroke-linejoin="miter"/>
<polygon points="521.983,231.6 525.883,239 518.083,239" fill="none" stroke="#00ee00" stroke-width="1.1" stroke-linejoin="miter"/>
<polygon points="541.2,231.6 545.1,239 537.3,239" fill="none" stroke="#00ee00" stroke-width="1.1" stroke-linejoin="miter"/>
<path d="M306.9 232.5L314.3 239.9M306.9 239.9L314.3 232.5" stroke="#555555" stroke-width="0.85" fill="none"/>
<path d="M326.117 232.5L333.517 239.9M326.117 239.9L333.517 232.5" stroke="#555555" stroke-width="0.85" fill="none"/>
<path d="M345.333 232.5L352.733 239.9M345.333 239.9L352.733 232.5" stroke="#555555" stroke-width="0.85" fill="none"/>
<path d="M364.55 232.5L371.95 239.9M364.55 239.9L371.95 232.5" stroke="#555555" stroke-width="0.85" fill="none"/>
<path d="M383.767 232.5L391.167 239.9M383.767 239.9L391.167 232.5" stroke="#555555" stroke-width="0.85" fill="none"/>
<path d="M402.983 232.5L410.383 239.9M402.983 239.9L410.383 232.5" stroke="#555555" stroke-width="0.85" fill="none"/>
<path d="M422.2 232.5L429.6 239.9M422.2 239.9L429.6 232.5" stroke="#555555" stroke-width="0.85" fill="none"/>
<path d="M441.417 232.5L448.817 239.9M441.417 239.9L448.817 232.5" stroke="#555555" stroke-width="0.85" fill="none"/>
<path d="M460.633 232.5L468.033 239.9M460.633 239.9L468.033 232.5" stroke="#555555" stroke-width="0.85" fill="none"/>
<path d="M479.85 232.5L487.25 239.9M479.85 239.9L487.25 232.5" stroke="#555555" stroke-width="0.85" fill="none"/>
<path d="M499.067 232.5L506.467 239.9M499.067 239.9L506.467 232.5" stroke="#555555" stroke-width="0.85" fill="none"/>
<path d="M518.283 232.5L525.683 239.9M518.283 239.9L525.683 232.5" stroke="#555555" stroke-width="0.85" fill="none"/>
<path d="M537.5 232.5L544.9 239.9M537.5 239.9L544.9 232.5" stroke="#555555" stroke-width="0.85" fill="none"/>
</g>
<line x1="310" y1="236.3" x2="541.8" y2="236.3" stroke="#3a3a3a" stroke-width="1.2"/>
<line x1="310" y1="390.2" x2="541.8" y2="390.2" stroke="#3a3a3a" stroke-width="1.2"/>
<line x1="310.6" y1="236.3" x2="310.6" y2="390.2" stroke="#3a3a3a" stroke-width="1.2"/>
<line x1="541.2" y1="236.3" x2="541.2" y2="390.2" stroke="#3a3a3a" stroke-width="1.2"/>
<line x1="310.6" y1="390.2" x2="310.6" y2="393.2" stroke="#3a3a3a" stroke-width="1"/>
<text transform="translate(310.6 401.7) scale(0.983 1)" font-size="8" text-anchor="middle" fill="#141414" font-family="'Liberation Sans', Arial, sans-serif" stroke="#141414" stroke-width="0.2">1.6</text>
<line x1="329.817" y1="390.2" x2="329.817" y2="393.2" stroke="#3a3a3a" stroke-width="1"/>
<text transform="translate(329.817 401.7) scale(0.983 1)" font-size="8" text-anchor="middle" fill="#141414" font-family="'Liberation Sans', Arial, sans-serif" stroke="#141414" stroke-width="0.2">1.8</text>
<line x1="349.033" y1="390.2" x2="349.033" y2="393.2" stroke="#3a3a3a" stroke-width="1"/>
<text transform="translate(349.033 401.7) scale(0.983 1)" font-size="8" text-anchor="middle" fill="#141414" font-family="'Liberation Sans', Arial, sans-serif" stroke="#141414" stroke-width="0.2">2.0</text>
<line x1="368.25" y1="390.2" x2="368.25" y2="393.2" stroke="#3a3a3a" stroke-width="1"/>
<text transform="translate(368.25 401.7) scale(0.983 1)" font-size="8" text-anchor="middle" fill="#141414" font-family="'Liberation Sans', Arial, sans-serif" stroke="#141414" stroke-width="0.2">2.2</text>
<line x1="387.467" y1="390.2" x2="387.467" y2="393.2" stroke="#3a3a3a" stroke-width="1"/>
<text transform="translate(387.467 401.7) scale(0.983 1)" font-size="8" text-anchor="middle" fill="#141414" font-family="'Liberation Sans', Arial, sans-serif" stroke="#141414" stroke-width="0.2">2.4</text>
<line x1="406.683" y1="390.2" x2="406.683" y2="393.2" stroke="#3a3a3a" stroke-width="1"/>
<text transform="translate(406.683 401.7) scale(0.983 1)" font-size="8" text-anchor="middle" fill="#141414" font-family="'Liberation Sans', Arial, sans-serif" stroke="#141414" stroke-width="0.2">2.6</text>
<line x1="425.9" y1="390.2" x2="425.9" y2="393.2" stroke="#3a3a3a" stroke-width="1"/>
<text transform="translate(425.9 401.7) scale(0.983 1)" font-size="8" text-anchor="middle" fill="#141414" font-family="'Liberation Sans', Arial, sans-serif" stroke="#141414" stroke-width="0.2">2.8</text>
<line x1="445.117" y1="390.2" x2="445.117" y2="393.2" stroke="#3a3a3a" stroke-width="1"/>
<text transform="translate(445.117 401.7) scale(0.983 1)" font-size="8" text-anchor="middle" fill="#141414" font-family="'Liberation Sans', Arial, sans-serif" stroke="#141414" stroke-width="0.2">3.0</text>
<line x1="464.333" y1="390.2" x2="464.333" y2="393.2" stroke="#3a3a3a" stroke-width="1"/>
<text transform="translate(464.333 401.7) scale(0.983 1)" font-size="8" text-anchor="middle" fill="#141414" font-family="'Liberation Sans', Arial, sans-serif" stroke="#141414" stroke-width="0.2">3.2</text>
<line x1="483.55" y1="390.2" x2="483.55" y2="393.2" stroke="#3a3a3a" stroke-width="1"/>
<text transform="translate(483.55 401.7) scale(0.983 1)" font-size="8" text-anchor="middle" fill="#141414" font-family="'Liberation Sans', Arial, sans-serif" stroke="#141414" stroke-width="0.2">3.4</text>
<line x1="502.767" y1="390.2" x2="502.767" y2="393.2" stroke="#3a3a3a" stroke-width="1"/>
<text transform="translate(502.767 401.7) scale(0.983 1)" font-size="8" text-anchor="middle" fill="#141414" font-family="'Liberation Sans', Arial, sans-serif" stroke="#141414" stroke-width="0.2">3.6</text>
<line x1="521.983" y1="390.2" x2="521.983" y2="393.2" stroke="#3a3a3a" stroke-width="1"/>
<text transform="translate(521.983 401.7) scale(0.983 1)" font-size="8" text-anchor="middle" fill="#141414" font-family="'Liberation Sans', Arial, sans-serif" stroke="#141414" stroke-width="0.2">3.8</text>
<line x1="541.2" y1="390.2" x2="541.2" y2="393.2" stroke="#3a3a3a" stroke-width="1"/>
<text transform="translate(541.2 401.7) scale(0.983 1)" font-size="8" text-anchor="middle" fill="#141414" font-family="'Liberation Sans', Arial, sans-serif" stroke="#141414" stroke-width="0.2">4.0</text>
<line x1="307.6" y1="236.2" x2="310.6" y2="236.2" stroke="#3a3a3a" stroke-width="1"/>
<text transform="translate(306 238.75) scale(0.983 1)" font-size="8" text-anchor="end" fill="#141414" font-family="'Liberation Sans', Arial, sans-serif" stroke="#141414" stroke-width="0.2">1.0</text>
<line x1="307.6" y1="266.98" x2="310.6" y2="266.98" stroke="#3a3a3a" stroke-width="1"/>
<text transform="translate(306 269.53) scale(0.983 1)" font-size="8" text-anchor="end" fill="#141414" font-family="'Liberation Sans', Arial, sans-serif" stroke="#141414" stroke-width="0.2">0.8</text>
<line x1="307.6" y1="297.76" x2="310.6" y2="297.76" stroke="#3a3a3a" stroke-width="1"/>
<text transform="translate(306 300.31) scale(0.983 1)" font-size="8" text-anchor="end" fill="#141414" font-family="'Liberation Sans', Arial, sans-serif" stroke="#141414" stroke-width="0.2">0.6</text>
<line x1="307.6" y1="328.54" x2="310.6" y2="328.54" stroke="#3a3a3a" stroke-width="1"/>
<text transform="translate(306 331.09) scale(0.983 1)" font-size="8" text-anchor="end" fill="#141414" font-family="'Liberation Sans', Arial, sans-serif" stroke="#141414" stroke-width="0.2">0.4</text>
<line x1="307.6" y1="359.32" x2="310.6" y2="359.32" stroke="#3a3a3a" stroke-width="1"/>
<text transform="translate(306 361.87) scale(0.983 1)" font-size="8" text-anchor="end" fill="#141414" font-family="'Liberation Sans', Arial, sans-serif" stroke="#141414" stroke-width="0.2">0.2</text>
<line x1="307.6" y1="390.1" x2="310.6" y2="390.1" stroke="#3a3a3a" stroke-width="1"/>
<text transform="translate(306 392.65) scale(0.983 1)" font-size="8" text-anchor="end" fill="#141414" font-family="'Liberation Sans', Arial, sans-serif" stroke="#141414" stroke-width="0.2">0.0</text>
<line x1="309" y1="251.59" x2="310.6" y2="251.59" stroke="#3a3a3a" stroke-width="0.9"/>
<line x1="309" y1="282.37" x2="310.6" y2="282.37" stroke="#3a3a3a" stroke-width="0.9"/>
<line x1="309" y1="313.15" x2="310.6" y2="313.15" stroke="#3a3a3a" stroke-width="0.9"/>
<line x1="309" y1="343.93" x2="310.6" y2="343.93" stroke="#3a3a3a" stroke-width="0.9"/>
<line x1="309" y1="374.71" x2="310.6" y2="374.71" stroke="#3a3a3a" stroke-width="0.9"/>
<text transform="translate(426.2 414.9)" font-size="8" text-anchor="middle" fill="#141414" font-family="'Liberation Sans', Arial, sans-serif" stroke="#141414" stroke-width="0.2">The distance between RSUs(km)</text>
<text transform="translate(289.3 318) rotate(-90)" font-size="8" text-anchor="middle" fill="#141414" font-family="'Liberation Sans', Arial, sans-serif" stroke="#141414" stroke-width="0.2">The RSU usage rate(%)</text>
<rect x="317.3" y="344.1" width="142.3" height="40" fill="#ffffff" stroke="#c4c4c4" stroke-width="0.8"/>
<line x1="328.8" y1="350.1" x2="346.3" y2="350.1" stroke="#ff9a9a" stroke-width="0.8"/>
<rect x="334.585" y="347.085" width="6.03" height="6.03" fill="#ff0000"/>
<text transform="translate(348.9 352.7) scale(0.983 1)" font-size="8" text-anchor="start" fill="#141414" font-family="'Liberation Sans', Arial, sans-serif" stroke="#141414" stroke-width="0.2">The proposed scheme</text>
<line x1="328.8" y1="359.8" x2="346.3" y2="359.8" stroke="#9c9cff" stroke-width="0.8"/>
<circle cx="337.6" cy="359.8" r="3.06" fill="none" stroke="#0a0aff" stroke-width="1.1"/>
<text transform="translate(348.9 362.4) scale(0.983 1)" font-size="8" text-anchor="start" fill="#141414" font-family="'Liberation Sans', Arial, sans-serif" stroke="#141414" stroke-width="0.2">The random selection scheme</text>
<line x1="328.8" y1="369.5" x2="346.3" y2="369.5" stroke="#9cf09c" stroke-width="0.8"/>
<polygon points="337.6,365.99 341.47,372.74 333.73,372.74" fill="none" stroke="#00ee00" stroke-width="1.1" stroke-linejoin="miter"/>
<text transform="translate(348.9 372.1) scale(0.983 1)" font-size="8" text-anchor="start" fill="#141414" font-family="'Liberation Sans', Arial, sans-serif" stroke="#141414" stroke-width="0.2">The only RSU scheme</text>
<line x1="328.8" y1="379.2" x2="346.3" y2="379.2" stroke="#d0d0d0" stroke-width="0.8"/>
<path d="M334.27 375.87L340.93 382.53M334.27 382.53L340.93 375.87" stroke="#555555" stroke-width="0.85" fill="none"/>
<text transform="translate(348.9 381.8) scale(0.983 1)" font-size="8" text-anchor="start" fill="#141414" font-family="'Liberation Sans', Arial, sans-serif" stroke="#141414" stroke-width="0.2">Tha basic CCVN scheme</text>
<text transform="translate(414.6 432.6)" font-size="14.2" text-anchor="middle" fill="#111" font-family="'Liberation Serif', 'Times New Roman', serif" font-weight="bold"><tspan font-weight="normal" stroke="#111" stroke-width="0.45">(</tspan>d<tspan font-weight="normal" stroke="#111" stroke-width="0.45">)</tspan></text>
</svg>
</body></html>
